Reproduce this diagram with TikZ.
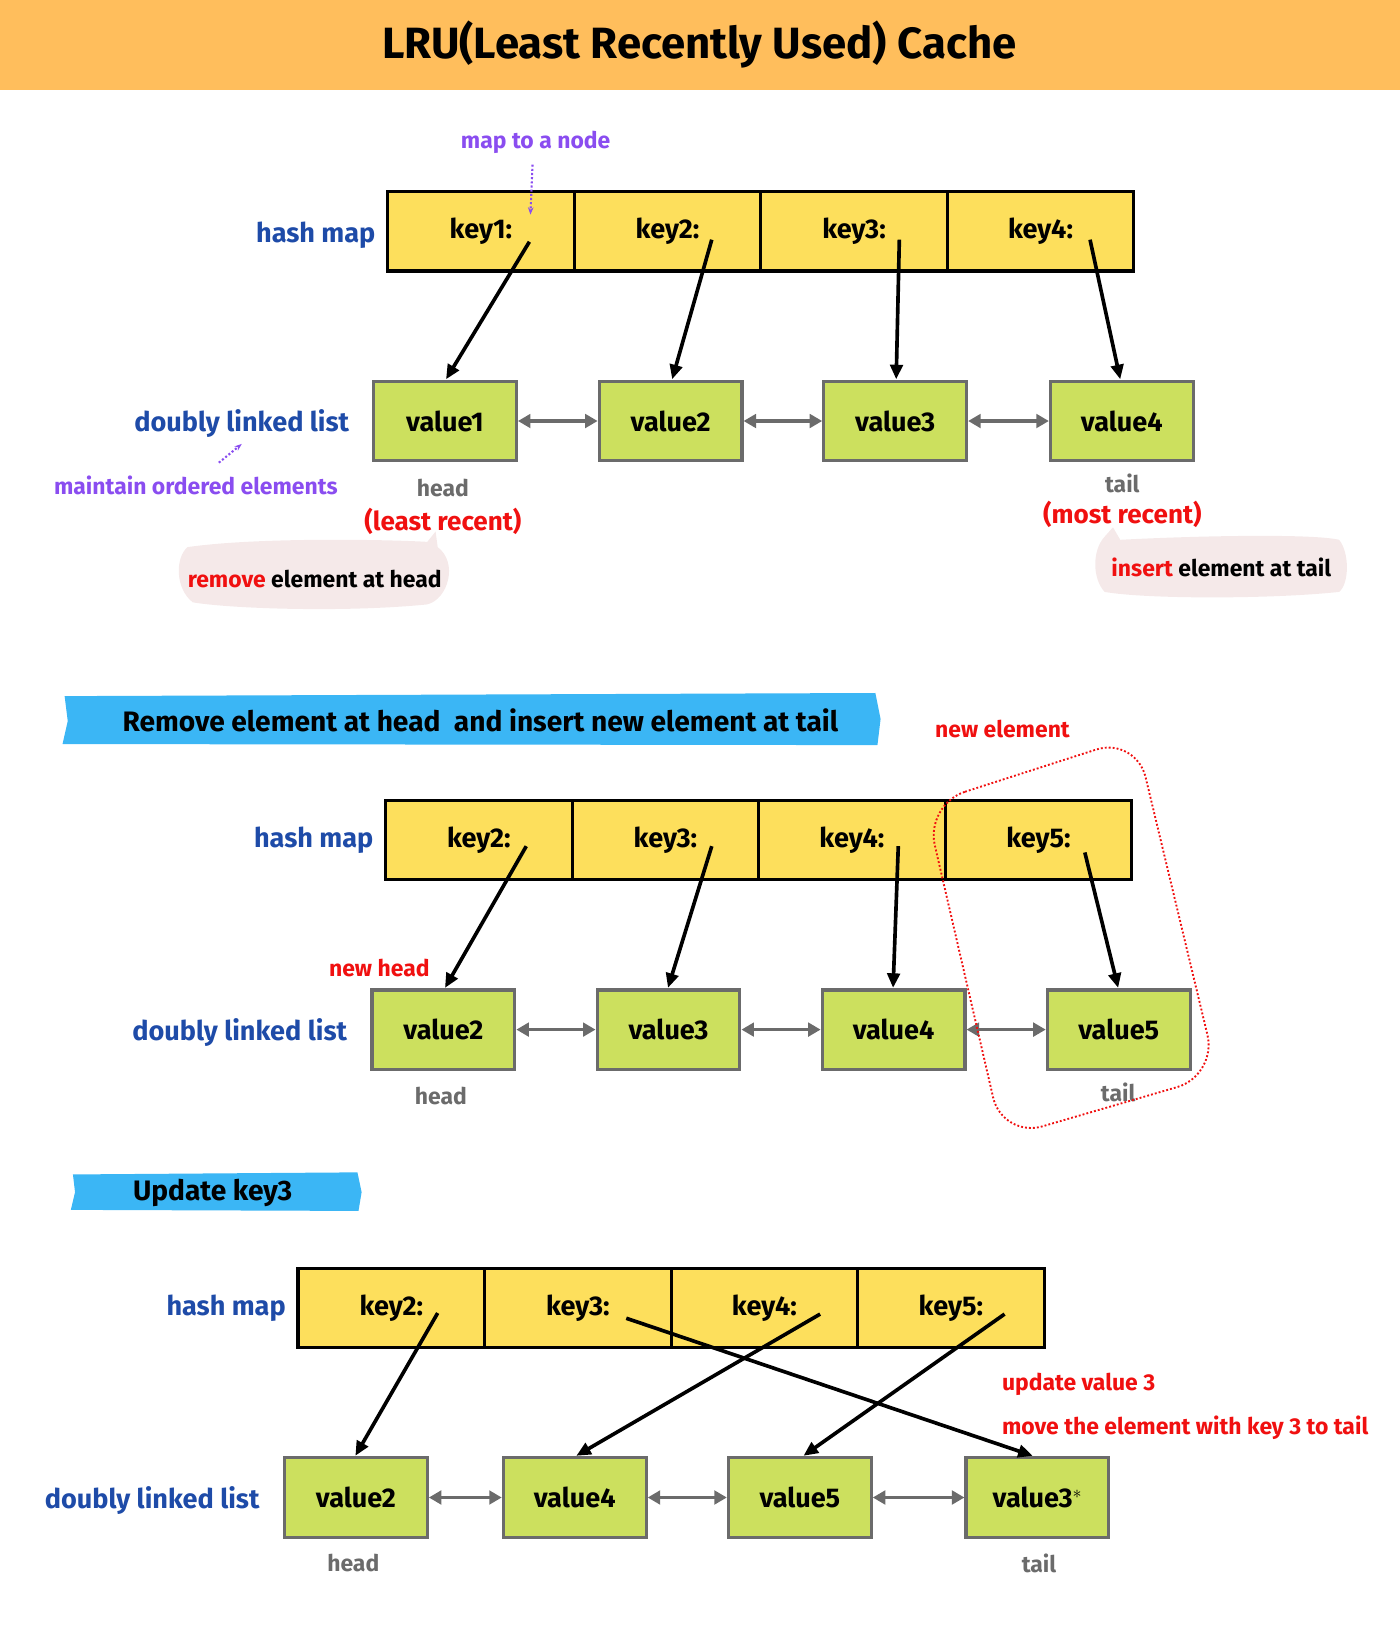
\documentclass[tikz,border=0pt]{standalone}
\usepackage{fontspec}
\setmainfont{Fira Sans}
\usetikzlibrary{arrows.meta}
\definecolor{ttl}{HTML}{FFBE5C}
\definecolor{keyc}{HTML}{FDDF5C}
\definecolor{valc}{HTML}{CCE05E}
\definecolor{bl}{HTML}{1E4BA8}
\definecolor{pur}{HTML}{8A4DF0}
\definecolor{rd}{HTML}{F01010}
\definecolor{gr}{HTML}{6B6B6B}
\definecolor{ban}{HTML}{3BB6F5}
\definecolor{bub}{HTML}{F5E9E9}
\tikzset{
 keybox/.style={draw=black,line width=3pt,fill=keyc,minimum width=179pt,minimum height=76pt,inner sep=0,font=\fontsize{26}{30}\selectfont\bfseries},
 valbox/.style={draw=gr,line width=3pt,fill=valc,minimum width=137pt,minimum height=76pt,inner sep=0,font=\fontsize{26}{30}\selectfont\bfseries},
 lbl/.style={text=bl,font=\fontsize{26}{30}\selectfont\bfseries},
 note/.style={font=\fontsize{22}{26}\selectfont\bfseries},
 ptr/.style={-{Triangle[length=14pt,width=12pt]},line width=3.5pt},
 dbl/.style={{Triangle[length=12pt,width=13pt]}-{Triangle[length=12pt,width=13pt]},line width=3.5pt,draw=gr},
}
\begin{document}
\begin{tikzpicture}[x=1pt,y=-1pt]
\useasboundingbox (0,0) rectangle (1343,1568);
\fill[ttl] (0,0) rectangle (1343,86);
\node[font=\fontsize{42}{46}\selectfont\bfseries] (title) at (671,43) {LRU(Least Recently Used) Cache};
% ---------- section 1
\foreach \i/\x in {1/461.5,2/640.5,3/819.5,4/998.5}{\node[keybox] (a\i) at (\x,222) {key\i:};}
\foreach \i/\x in {1/427,2/643.5,3/859,4/1076.5}{\node[valbox] (av\i) at (\x,404) {value\i};}
\node[lbl] (ahm) at (303,226) {hash map};
\node[lbl] (adl) at (232,406) {doubly linked list};
\coordinate (k1) at (508,232); \coordinate (k2) at (683,230); \coordinate (k3) at (863,230); \coordinate (k4) at (1046,230);
\draw[ptr] (k1) -- (428,364);
\draw[ptr] (k2) -- (645,364);
\draw[ptr] (k3) -- (860,364);
\draw[ptr] (k4) -- (1075,364);
\draw[dbl] (av1) -- (av2); \draw[dbl] (av2) -- (av3); \draw[dbl] (av3) -- (av4);
\node[note,text=pur] (map) at (514,137) {map to a node};
\draw[pur,dotted,line width=2pt,-{Stealth[length=7pt]}] (511,158) -- (509,206);
\node[note,text=pur] (moe) at (188,466) {maintain ordered elements};
\draw[pur,dotted,line width=2pt,-{Stealth[length=7pt]}] (210,444) -- (232,426);
\node[note,text=gr] (ah) at (425,468) {head};
\node[note,text=rd,font=\fontsize{25}{28}\selectfont\bfseries] (alr) at (425,500) {(least recent)};
\node[note,text=gr] (at) at (1077,464) {tail};
\node[note,text=rd,font=\fontsize{25}{28}\selectfont\bfseries] (amr) at (1077,494) {(most recent)};
\fill[bub] (180,525) .. controls (250,515) and (380,518) .. (410,520) -- (418,510) -- (420,525) .. controls (440,540) and (430,575) .. (410,580) .. controls (330,588) and (220,584) .. (185,578) .. controls (168,565) and (168,535) .. (180,525);
\node[note] (rem) at (302,556) {\textcolor{rd}{remove} element at head};
\fill[bub] (1060,515) -- (1068,506) -- (1075,518) .. controls (1150,514) and (1260,512) .. (1285,518) .. controls (1295,530) and (1295,560) .. (1285,568) .. controls (1220,575) and (1100,575) .. (1060,568) .. controls (1048,555) and (1048,528) .. (1060,515);
\node[note] (ins) at (1172,544) {\textcolor{rd}{insert} element at tail};
% ---------- section 2
\fill[ban] (62,668) -- (840,665) -- (845,690) -- (842,715) -- (60,714) -- (65,692) -- cycle;
\node[font=\fontsize{27}{30}\selectfont\bfseries] (b2) at (461,691) {Remove element at head\ \ and insert new element at tail};
\foreach \i/\x in {2/459.5,3/638.5,4/817.5,5/996.5}{\node[keybox] (b\i) at (\x,806) {key\i:};}
\foreach \i/\x in {2/425.5,3/641.5,4/857.5,5/1073.5}{\node[valbox] (bv\i) at (\x,988) {value\i};}
\node[lbl] (bhm) at (301,806) {hash map};
\node[lbl] (bdl) at (230,991) {doubly linked list};
\draw[ptr] (505,812) -- (427,948);
\draw[ptr] (683,812) -- (641,948);
\draw[ptr] (862,812) -- (857,948);
\draw[ptr] (1041,818) -- (1073,948);
\draw[dbl] (bv2) -- (bv3); \draw[dbl] (bv3) -- (bv4); \draw[dbl] (bv4) -- (bv5);
\node[note,text=rd] (nh) at (364,929) {new head};
\node[note,text=gr] (bh) at (423,1052) {head};
\node[note,text=gr] (bt) at (1073,1048) {tail};
\node[note,text=rd] (ne) at (962,700) {new element};
\draw[rd,dotted,line width=1.8pt,rounded corners=40pt] (888,772) -- (1090,707) -- (1168,1032) -- (962,1092) -- cycle;
% ---------- section 3
\fill[ban] (70,1127) -- (343,1125) -- (347,1144) -- (344,1162) -- (68,1161) -- (72,1144) -- cycle;
\node[font=\fontsize{27}{30}\selectfont\bfseries] (b3) at (204,1145) {Update key3};
\foreach \i/\x/\k in {1/375.5/2,2/554.5/3,3/733.5/4,4/912.5/5}{\node[keybox] (c\i) at (\x,1255) {key\k:};}
\node[valbox] (cv1) at (341.5,1437) {value2};
\node[valbox] (cv2) at (551.5,1437) {value4};
\node[valbox] (cv3) at (767.5,1437) {value5};
\node[valbox] (cv4) at (995.5,1437) {value3$^{*}$};
\node[lbl] (chm) at (217,1255) {hash map};
\node[lbl] (cdl) at (146,1440) {doubly linked list};
\draw[ptr] (420,1260) -- (341,1397);
\draw[ptr] (601,1265) -- (991,1397);
\draw[ptr] (787,1261) -- (553,1397);
\draw[ptr] (964,1261) -- (771,1397);
\draw[dbl] (cv1) -- (cv2); \draw[dbl] (cv2) -- (cv3); \draw[dbl] (cv3) -- (cv4);
\node[note,text=rd,anchor=west] (uv) at (958,1328) {update value 3};
\node[note,text=rd,anchor=west] (mv) at (958,1370) {move the element with key 3 to tail};
\node[note,text=gr] (ch) at (339,1500) {head};
\node[note,text=gr] (ct) at (997,1500) {tail};
\end{tikzpicture}
\end{document}
